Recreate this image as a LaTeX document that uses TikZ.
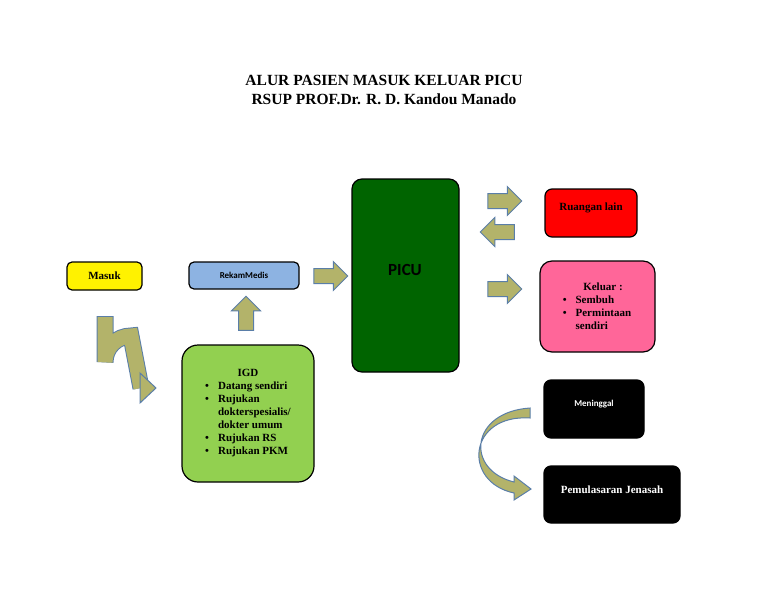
\documentclass[tikz,border=0pt]{standalone}
\usepackage{fontspec}
\setmainfont{Liberation Serif}
\newfontfamily\sansf{Carlito}
\usetikzlibrary{shapes.arrows}
\definecolor{olv}{HTML}{B3B36A}
\definecolor{aline}{HTML}{5A7EA8}
\definecolor{rmblue}{HTML}{8DB3E2}
\definecolor{picug}{HTML}{006400}
\definecolor{igdg}{HTML}{92D050}
\definecolor{pinkk}{HTML}{FF6699}
\begin{document}
\begin{tikzpicture}[x=1pt,y=-1pt,
 box/.style={draw=black,line width=1.2pt,rounded corners=5pt,inner sep=0},
 barr/.style={single arrow,draw=aline,fill=olv,line width=1pt,inner sep=7pt,minimum height=34pt,single arrow head extend=7pt},
 bt/.style={font=\bfseries\fontsize{11}{13}\selectfont}]
\useasboundingbox (0,0) rectangle (768,594);
\node[font=\bfseries\fontsize{15.5}{19}\selectfont,align=center] (title) at (384,90) {ALUR PASIEN MASUK KELUAR PICU\\RSUP PROF.Dr. R. D. Kandou Manado};
\draw[box,fill=yellow] (67,262) rectangle (142,290);
\node[bt] (masuk) at (104.5,276) {Masuk};
\draw[box,fill=rmblue] (189,262) rectangle (299,289);
\node[font=\sansf\bfseries\fontsize{9}{11}\selectfont] (rm) at (244,275.5) {RekamMedis};
\draw[box,fill=picug,rounded corners=10pt] (352,179) rectangle (459,372);
\node[font=\sansf\bfseries\fontsize{17}{20}\selectfont] (picu) at (405,270) {PICU};
\draw[box,fill=red,rounded corners=7pt] (545,189) rectangle (637,237);
\node[bt] (rl) at (591,208) {Ruangan lain};
\draw[box,fill=pinkk,rounded corners=12pt] (540,261) rectangle (655,352);
\node[bt,align=left] (kel) at (597,307) {\begin{tabular}{@{}l@{\hspace{9pt}}l@{}}\multicolumn{2}{c}{\hspace{12pt}Keluar :}\\ \textbullet & Sembuh\\ \textbullet & Permintaan\\ & sendiri\end{tabular}};
\draw[box,fill=black,rounded corners=7pt] (544,380) rectangle (644,438);
\node[font=\sansf\bfseries\fontsize{9}{11}\selectfont,text=white] (men) at (594,404) {Meninggal};
\draw[box,fill=black,rounded corners=7pt] (544,466) rectangle (680,523);
\node[bt,text=white] (pem) at (612,490) {Pemulasaran Jenasah};
\draw[box,fill=igdg,rounded corners=16pt] (182,345) rectangle (314,482);
\node[bt,align=left] (igd) at (248,413) {\begin{tabular}{@{}l@{\hspace{9pt}}l@{}}\multicolumn{2}{c}{IGD}\\ \textbullet & Datang sendiri\\ \textbullet & Rujukan\\ & dokterspesialis/\\ & dokter umum\\ \textbullet & Rujukan RS\\ \textbullet & Rujukan PKM\end{tabular}};
% straight block arrows
\node[barr] (a1) at (327,276) {};
\node[barr,rotate=90] (a2) at (246,317) {};
\node[barr] (a3) at (501,201) {};
\node[barr,rotate=180] (a4) at (501,232) {};
\node[barr] (a5) at (501,289) {};
% L arrow
\draw[aline,line width=17pt] (105,316) -- (105,362) arc[start angle=180,end angle=90,radius=26pt] -- (141,388);
\draw[olv,line width=15pt] (105,317) -- (105,362) arc[start angle=180,end angle=90,radius=26pt] -- (141,388);
\draw[draw=aline,fill=olv,line width=1pt] (140,373) -- (156,388) -- (140,403) -- cycle;
% C arrow
\fill[olv,draw=aline,line width=1pt] (530,408) .. controls (470,412) and (465,470) .. (514,482) -- (514,476) -- (531,489) -- (514,500) -- (514,493) .. controls (462,482) and (468,414) .. (530,418) -- cycle;
\coordinate (cstart) at (530,413);
\end{tikzpicture}
\end{document}
